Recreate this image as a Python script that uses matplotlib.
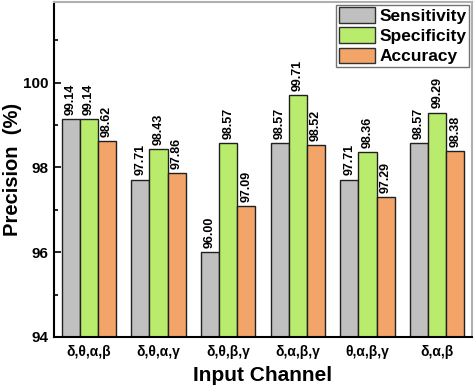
import matplotlib
matplotlib.use("Agg")
import matplotlib.pyplot as plt
import numpy as np
from matplotlib.ticker import MultipleLocator

plt.rcParams['font.family'] = ['Liberation Sans', 'DejaVu Sans']
plt.rcParams['font.weight'] = 'bold'

categories = ["δ,θ,α,β", "δ,θ,α,γ", "δ,θ,β,γ", "δ,α,β,γ", "θ,α,β,γ", "δ,α,β"]
sensitivity = [99.14, 97.71, 96.00, 98.57, 97.71, 98.57]
specificity = [99.14, 98.43, 98.57, 99.71, 98.36, 99.29]
accuracy = [98.62, 97.86, 97.09, 98.52, 97.29, 98.38]
series_names = ["Sensitivity", "Specificity", "Accuracy"]
colors = ["#c0c0c0", "#b9ec6c", "#f3a468"]

fig = plt.figure(figsize=(4.74, 3.89), dpi=100)
ax = fig.add_axes([54/474, 1 - 337/389, 418/474, 335/389])

x = np.arange(len(categories))
w = 0.26
for i, (vals, name, c) in enumerate(zip([sensitivity, specificity, accuracy], series_names, colors)):
    pos = x + (i - 1) * w
    ax.bar(pos, [v - 94 for v in vals], w, bottom=94, color=c, edgecolor='#202020', linewidth=1.0, label=name)
    for p, v in zip(pos, vals):
        ax.text(p, v + 0.1, f"{v:.2f}", rotation=90, ha='center', va='bottom', fontsize=9, fontweight='bold')

ax.set_xlim(-0.5, 5.5)
ax.set_ylim(94, 101.9)
ax.set_xticks(x)
ax.set_xticklabels(categories, fontsize=10, fontweight='bold')
ax.yaxis.set_major_locator(MultipleLocator(2))
ax.yaxis.set_minor_locator(MultipleLocator(1))
ax.tick_params(axis='y', which='major', direction='in', length=5, width=1.2, labelsize=11, pad=4)
ax.tick_params(axis='y', which='minor', direction='in', length=3, width=1.2)
ax.tick_params(axis='x', length=0, pad=6)
for lbl in ax.get_yticklabels():
    lbl.set_fontweight('bold')
ax.spines['left'].set_linewidth(1.5)
ax.spines['bottom'].set_linewidth(1.5)
ax.spines['top'].set_color('#b0b0b0')
ax.spines['right'].set_color('#b0b0b0')
ax.spines['top'].set_linewidth(1.5)
ax.spines['right'].set_linewidth(1.5)

ax.set_ylabel("Precision  (%)", fontsize=14.5, fontweight='bold', labelpad=1)
ax.set_xlabel("Input Channel", fontsize=15, fontweight='bold', labelpad=5)

leg = ax.legend(loc='upper right', fontsize=12.5, frameon=True, fancybox=False,
                edgecolor='#505050', handlelength=2.1, handleheight=1.0,
                borderaxespad=0.15, borderpad=0.15, labelspacing=0.2, handletextpad=0.25)
leg.get_frame().set_linewidth(1.0)
for t in leg.get_texts():
    t.set_fontweight('bold')
for h in leg.legend_handles:
    h.set_edgecolor('#303030')

fig.savefig("out.png", dpi=100)
